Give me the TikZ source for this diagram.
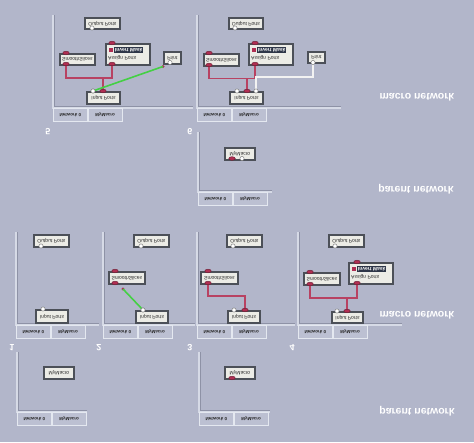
\documentclass[tikz,border=0pt]{standalone}
\usepackage{graphicx}
\usepackage{fontspec}
\setmainfont{Liberation Sans}
\usetikzlibrary{shapes.geometric}
\definecolor{bgc}{HTML}{B2B6CA}
\definecolor{panhi}{HTML}{D6DAE6}
\definecolor{panlo}{HTML}{8E92A6}
\definecolor{tabfill}{HTML}{BCC0D2}
\definecolor{tabline}{HTML}{E4E8F0}
\definecolor{modline}{HTML}{4C5058}
\definecolor{modfill}{HTML}{ECECE6}
\definecolor{redw}{HTML}{B84262}
\definecolor{redp}{HTML}{B02E52}
\definecolor{greenw}{HTML}{44D044}
\definecolor{hilite}{HTML}{2E3648}
\newcommand\myflip[1]{\scalebox{1}[-1]{#1}}
\pgfdeclarelayer{bglayer}
\pgfdeclarelayer{wirelayer}
\pgfsetlayers{bglayer,wirelayer,main}
\tikzset{
  panelhi/.style={draw=panhi, line width=1.5},
  panello/.style={draw=panlo, line width=0.7},
  tabbox/.style={draw=tabline, fill=tabfill, line width=0.8, minimum width=34, minimum height=13, inner sep=0, anchor=north west, text=black!85, font=\fontsize{4.5}{5}\selectfont\bfseries},
  mod/.style={draw=modline, fill=modfill, line width=1.9, inner sep=0, anchor=north west, text=black!85, font=\fontsize{5}{6}\selectfont},
  wport/.style={circle, fill=white, draw=black!55, line width=0.4, minimum size=4.2, inner sep=0},
  rport/.style={ellipse, fill=redp, draw=redp!60!black, line width=0.4, minimum width=6.5, minimum height=3.6, inner sep=0},
  rdot/.style={circle, fill=redp, minimum size=3.2, inner sep=0},
  rwire/.style={draw=redw, line width=1.4},
  gwire/.style={draw=greenw, line width=1.6},
  wwire/.style={draw=white!95!black, line width=1.3},
  biglabel/.style={text=white, font=\fontsize{10.5}{12}\selectfont\bfseries},
  numlabel/.style={text=white, font=\fontsize{9}{10}\selectfont\bfseries},
  chk/.style={fill=redp, minimum size=4, inner sep=0},
  hil/.style={fill=hilite, text=white, inner sep=0.7, font=\fontsize{5}{6}\selectfont\bfseries},
}
\newcommand\netpanel[5]{%
  \draw[panelhi] (#2,#3) -- (#2,#4) -- (#5,#4);
  \draw[panello] ({#2+1.7},#3) -- ({#2+1.7},{#4-1.7}) -- (#5,{#4-1.7});
  \node[tabbox] (#1ta) at (#2,#4) {\myflip{Network 0}};
  \node[tabbox] (#1tb) at (#1ta.north east) {\myflip{MyMacro}};
}
\newcommand\assignmod[3]{% name, x, y
  \node[mod, minimum width=44, minimum height=21] (#1) at (#2,#3) {};
  \node[chk] (#1c) at ({#2+5.5},{#3+7}) {};
  \node[hil, anchor=west] (#1h) at ({#2+9},{#3+7}) {\myflip{Invert Mask}};
  \node[anchor=west, inner sep=0, text=black!85, font=\fontsize{5}{6}\selectfont] (#1l) at ({#2+3},{#3+15}) {\myflip{Assign Ports}};
}
\begin{document}
\begin{tikzpicture}[x=1pt,y=-1pt]
\begin{pgfonlayer}{bglayer}
\path[fill=bgc] (0,0) rectangle (474,442);
\end{pgfonlayer}
\useasboundingbox (0,0) rectangle (474,442);

% ---------- panels ----------
\netpanel{pf}{53}{15}{108}{193}
\netpanel{ps}{197}{15}{108}{341}
\netpanel{pps}{198}{132}{192}{272}
\netpanel{pa}{16}{232}{325}{99}
\netpanel{pb}{103}{232}{325}{195}
\netpanel{pc}{197}{232}{325}{295}
\netpanel{pd}{298}{232}{325}{402}
\netpanel{ppa}{17}{352}{412}{87}
\netpanel{ppc}{199}{352}{412}{270}

% ---------- panel 5 ----------
\node[mod, minimum width=35, minimum height=11] (out5) at (84,17) {\myflip{Output Ports}};
\node[mod, minimum width=35, minimum height=11] (sm5) at (59,53) {\myflip{SmoothSlices}};
\assignmod{as5}{105}{43}
\node[mod, minimum width=17, minimum height=12] (pr5) at (163,51) {\myflip{Print}};
\node[mod, minimum width=33, minimum height=12] (in5) at (86,91) {\myflip{Input Ports}};
\node[wport] (out5p) at (92,28) {};
\node[rport] (sm5pt) at (66,53) {};
\node[rport] (sm5pb) at (66,64) {};
\node[rport] (as5pt) at (112,43) {};
\node[rport] (as5pb) at (112,64) {};
\node[wport] (pr5p) at (170,62.5) {};
\node[wport] (in5pw) at (93,91) {};
\node[rport] (in5pr) at (103,91) {};
\node[rdot] (g5end) at (163,66.5) {};
\coordinate (j5) at (103,78);
\begin{pgfonlayer}{wirelayer}
\draw[rwire] (sm5pb.center) |- (j5) -| (as5pb.center);
\draw[rwire] (j5) -- (in5pr.center);
\end{pgfonlayer}
\draw[gwire] (in5pw.center) -- (g5end.center);
\node[wport] at (in5pw) {};

% ---------- panel 6 ----------
\node[mod, minimum width=34, minimum height=11] (out6) at (228,17) {\myflip{Output Ports}};
\node[mod, minimum width=35, minimum height=12] (sm6) at (203,53) {\myflip{SmoothSlices}};
\assignmod{as6}{248}{43}
\node[mod, minimum width=17, minimum height=11] (pr6) at (307,51) {\myflip{Print}};
\node[mod, minimum width=33, minimum height=12] (in6) at (229,91) {\myflip{Input Ports}};
\coordinate (j6) at (247,78.5);
\coordinate (k6) at (313,77);
\begin{pgfonlayer}{wirelayer}
\draw[rwire] (209,65) |- (j6) -| (255,64);
\draw[rwire] (j6) -- (247,91);
\draw[wwire] (256,91) |- (k6) -- (313,62.5);
\end{pgfonlayer}
\node[wport] (out6p) at (235,28) {};
\node[rport] (sm6pt) at (209,53) {};
\node[rport] (sm6pb) at (209,65) {};
\node[rport] (as6pt) at (255,43) {};
\node[rport] (as6pb) at (255,64) {};
\node[wport] (pr6p) at (313,62.5) {};
\node[wport] (in6pw) at (237,91) {};
\node[rport] (in6pr) at (247,91) {};
\node[wport] (in6pv) at (256,91) {};

% ---------- parent of 6 ----------
\node[mod, minimum width=30, minimum height=12] (mm6) at (224,147) {\myflip{MyMacro}};
\node[rport] (mm6pr) at (232,158.5) {};
\node[wport] (mm6pw) at (242,158.5) {};

% ---------- panel 1 ----------
\node[mod, minimum width=35, minimum height=12] (out1) at (33,234) {\myflip{Output Ports}};
\node[mod, minimum width=32, minimum height=13] (in1) at (35,309) {\myflip{Input Ports}};
\node[wport] (out1p) at (41,246) {};
\node[wport] (in1p) at (43,309) {};

% ---------- panel 2 ----------
\node[mod, minimum width=35, minimum height=12] (out2) at (133,234) {\myflip{Output Ports}};
\node[mod, minimum width=36, minimum height=12] (sm2) at (108,271) {\myflip{SmoothSlices}};
\node[mod, minimum width=32, minimum height=12] (in2) at (135,310) {\myflip{Input Ports}};
\node[wport] (out2p) at (141,246) {};
\node[rport] (sm2pt) at (115,271) {};
\node[rport] (sm2pb) at (115,283) {};
\node[rdot] (g2end) at (123,289) {};
\node[wport] (in2p) at (143,310) {};
\draw[gwire] (in2p.center) -- (g2end.center);
\node[wport] at (in2p) {};

% ---------- panel 3 ----------
\node[mod, minimum width=35, minimum height=12] (out3) at (226,234) {\myflip{Output Ports}};
\node[mod, minimum width=37, minimum height=12] (sm3) at (200,271) {\myflip{SmoothSlices}};
\node[mod, minimum width=32, minimum height=12] (in3) at (227,310) {\myflip{Input Ports}};
\coordinate (j3) at (245,296);
\begin{pgfonlayer}{wirelayer}
\draw[rwire] (208,283) |- (j3) -- (245,310);
\end{pgfonlayer}
\node[wport] (out3p) at (233,246) {};
\node[rport] (sm3pt) at (208,271) {};
\node[rport] (sm3pb) at (208,283) {};
\node[wport] (in3pw) at (234,310) {};
\node[rport] (in3pr) at (245,310) {};

% ---------- panel 4 ----------
\node[mod, minimum width=35, minimum height=12] (out4) at (328,234) {\myflip{Output Ports}};
\node[mod, minimum width=36, minimum height=12] (sm4) at (303,272) {\myflip{SmoothSlices}};
\assignmod{as4}{348}{262}
\node[mod, minimum width=31, minimum height=11] (in4) at (331,311) {\myflip{Input Ports}};
\coordinate (j4) at (347,298);
\begin{pgfonlayer}{wirelayer}
\draw[rwire] (310,284) |- (j4) -| (357,283);
\draw[rwire] (j4) -- (347,311);
\end{pgfonlayer}
\node[wport] (out4p) at (335,246) {};
\node[rport] (sm4pt) at (310,272) {};
\node[rport] (sm4pb) at (310,284) {};
\node[rport] (as4pt) at (357,262) {};
\node[rport] (as4pb) at (357,283) {};
\node[wport] (in4pw) at (337,311) {};
\node[rport] (in4pr) at (347,311) {};

% ---------- parents of 1 and 3 ----------
\node[mod, minimum width=30, minimum height=12] (mm1) at (43,366) {\myflip{MyMacro}};
\node[mod, minimum width=30, minimum height=12] (mm3) at (224,366) {\myflip{MyMacro}};
\node[rport] (mm3pr) at (232,378) {};

% ---------- labels ----------
\node[biglabel] (lab1) at (417,97) {\myflip{macro network}};
\node[biglabel] (lab2) at (416,189) {\myflip{parent network}};
\node[biglabel] (lab3) at (417,315) {\myflip{macro network}};
\node[biglabel] (lab4) at (417,411) {\myflip{parent network}};
\node[numlabel] (n5) at (48,132) {\myflip{5}};
\node[numlabel] (n6) at (190,132) {\myflip{6}};
\node[numlabel] (n1) at (12,348) {\myflip{1}};
\node[numlabel] (n2) at (99,348) {\myflip{2}};
\node[numlabel] (n3) at (190,348) {\myflip{3}};
\node[numlabel] (n4) at (292,348) {\myflip{4}};
\end{tikzpicture}
\end{document}
